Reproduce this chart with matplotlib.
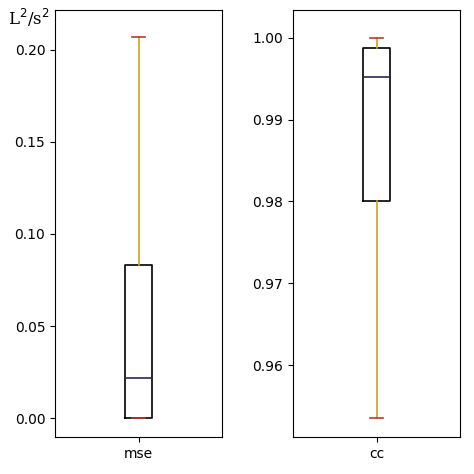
import matplotlib
matplotlib.use("Agg")
import matplotlib.pyplot as plt

# box statistics
labels = ["mse", "cc"]
q1 = [0.0, 0.9800]
med = [0.022, 0.9952]
q3 = [0.083, 0.9988]
lo = [0.0, 0.9535]
hi = [0.207, 1.0000]

fig = plt.figure(figsize=(4.74, 4.74), dpi=100)
axes = [fig.add_axes([55 / 474, 37 / 474, 167 / 474, 427 / 474]),
        fig.add_axes([293 / 474, 37 / 474, 167 / 474, 427 / 474])]

for i, ax in enumerate(axes):
    stats = [dict(label=labels[i], q1=q1[i], med=med[i], q3=q3[i],
                  whislo=lo[i], whishi=hi[i], fliers=[])]
    ax.bxp(stats, widths=0.16,
           boxprops=dict(color="black", lw=1.2),
           medianprops=dict(color="#2b2b4f", lw=1.2),
           whiskerprops=dict(color="#d4a017", lw=1.2),
           capprops=dict(color="#c0392b", lw=1.2))
    ax.tick_params(labelsize=10)

axes[0].set_ylim(-0.0103, 0.2217)
axes[0].set_yticks([0.0, 0.05, 0.10, 0.15, 0.20])
axes[0].set_yticklabels(["0.00", "0.05", "0.10", "0.15", "0.20"])
axes[1].set_ylim(0.9512, 1.0034)
axes[1].set_yticks([0.96, 0.97, 0.98, 0.99, 1.00])
axes[1].set_yticklabels(["0.96", "0.97", "0.98", "0.99", "1.00"])

fig.text(8 / 474, 1 - 18 / 474, "L$^2$/s$^2$", family="DejaVu Serif",
         fontsize=12, va="center")

fig.savefig("out.png", dpi=100)
